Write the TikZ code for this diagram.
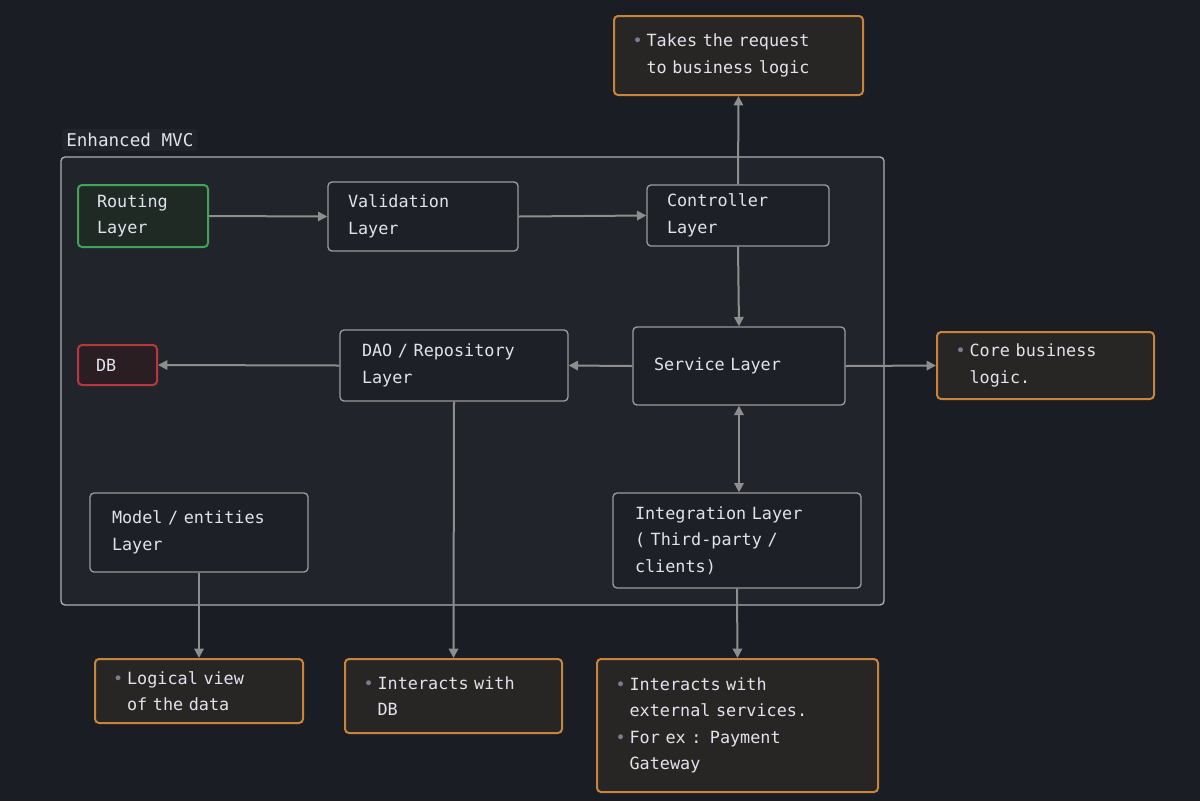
\documentclass[tikz,border=0pt]{standalone}
\usepackage{fontspec}
\setmainfont{DejaVu Sans Mono}
\usetikzlibrary{arrows.meta}
\definecolor{bg}{HTML}{1B1D24}
\definecolor{cont}{HTML}{22242B}
\definecolor{nfill}{HTML}{1E2027}
\definecolor{nbord}{HTML}{9C9C9C}
\definecolor{txt}{HTML}{E2E2EC}
\definecolor{org}{HTML}{C8843A}
\definecolor{ofill}{HTML}{282624}
\definecolor{grn}{HTML}{3FA457}
\definecolor{gfill}{HTML}{1F2A25}
\definecolor{rd}{HTML}{B8393B}
\definecolor{rfill}{HTML}{2A1E22}
\definecolor{arr}{HTML}{8E8E8E}
\definecolor{bul}{HTML}{7A7C90}
\newcommand{\bx}{{\color{bul}\textbullet}\hspace{3pt}}
\newcommand{\bp}{\phantom{\textbullet}\hspace{3pt}}
\begin{document}
\begin{tikzpicture}[x=0.75pt,y=-0.75pt,
  font=\fontsize{12.6}{19.8}\selectfont, text=txt,
  box/.style={draw=nbord, fill=nfill, rounded corners=3pt, line width=1pt, align=left, inner sep=0pt},
  note/.style={draw=org, fill=ofill, rounded corners=3pt, line width=1.5pt, align=left, inner sep=0pt},
  ar/.style={draw=arr, line width=1.5pt, -{Triangle[length=7pt,width=7pt]}},
  ar2/.style={draw=arr, line width=1.5pt, {Triangle[length=7pt,width=7pt]}-{Triangle[length=7pt,width=7pt]}}]
\fill[bg] (0,0) rectangle (1200,801);
\useasboundingbox (0,0) rectangle (1200,801);
% container
\node[draw=nbord!80, fill=cont, rounded corners=3pt, line width=1pt, minimum width=823*0.75pt, minimum height=448*0.75pt, inner sep=0pt] (cont) at (472.5,381) {};
\node[fill=cont, rounded corners=2pt, inner sep=3pt, anchor=west, font=\fontsize{13.2}{15}\selectfont] (lbl) at (62,140) {Enhanced MVC};
% boxes
\node[box, draw=grn, fill=gfill, line width=1.5pt, minimum width=130*0.75pt, minimum height=62*0.75pt, text width=92*0.75pt] (rout) at (143,216) {Routing\\Layer};
\node[box, minimum width=190*0.75pt, minimum height=69*0.75pt, text width=150*0.75pt] (val) at (423,216.5) {Validation\\Layer};
\node[box, minimum width=182*0.75pt, minimum height=61*0.75pt, text width=142*0.75pt] (ctrl) at (738,215.5) {Controller\\Layer};
\node[box, minimum width=212*0.75pt, minimum height=78*0.75pt, text width=170*0.75pt] (serv) at (739,366) {Service Layer\\[10pt]};
\node[box, minimum width=228*0.75pt, minimum height=71*0.75pt, text width=184*0.75pt] (dao) at (454,365.5) {DAO / Repository\\Layer};
\node[box, draw=rd, fill=rfill, line width=1.5pt, minimum width=79*0.75pt, minimum height=40*0.75pt, text width=43*0.75pt] (db) at (117.5,365) {DB};
\node[box, minimum width=218*0.75pt, minimum height=79*0.75pt, text width=174*0.75pt] (model) at (199,532.5) {Model / entities\\Layer};
\node[box, minimum width=248*0.75pt, minimum height=95*0.75pt, text width=204*0.75pt] (integ) at (737,540.5) {Integration Layer\\( Third-party /\\clients)};
% notes
\node[note, minimum width=249*0.75pt, minimum height=79*0.75pt, text width=212*0.75pt] (n1) at (738.5,55.5) {\bx Takes the request\\\bp to business logic};
\node[note, minimum width=217*0.75pt, minimum height=67*0.75pt, text width=180*0.75pt] (n2) at (1045.5,365.5) {\bx Core business\\\bp logic.};
\node[note, minimum width=208*0.75pt, minimum height=64*0.75pt, text width=172*0.75pt] (n3) at (199,691) {\bx Logical view\\\bp of the data};
\node[note, minimum width=217*0.75pt, minimum height=74*0.75pt, text width=180*0.75pt] (n4) at (453.5,696) {\bx Interacts with\\\bp DB\\[6pt]};
\node[note, minimum width=281*0.75pt, minimum height=133*0.75pt, text width=244*0.75pt] (n5) at (737.5,725.5) {\bx Interacts with\\\bp external services.\\\bx For ex : Payment\\\bp Gateway};
% arrows
\draw[ar] (rout.east) -- (val.west);
\draw[ar] (val.east) -- (ctrl.west);
\draw[ar] (ctrl.north) -- (n1.south);
\draw[ar] (ctrl.south) -- (serv.north);
\draw[ar] (serv.west) -- (dao.east);
\draw[ar] (dao.west) -- (db.east);
\draw[ar] (serv.east) -- (n2.west);
\draw[ar2] (serv.south) -- (integ.north -| serv.south);
\draw[ar] (dao.south) -- (n4.north);
\draw[ar] (model.south) -- (n3.north);
\draw[ar] (integ.south) -- (n5.north);
\end{tikzpicture}
\end{document}
